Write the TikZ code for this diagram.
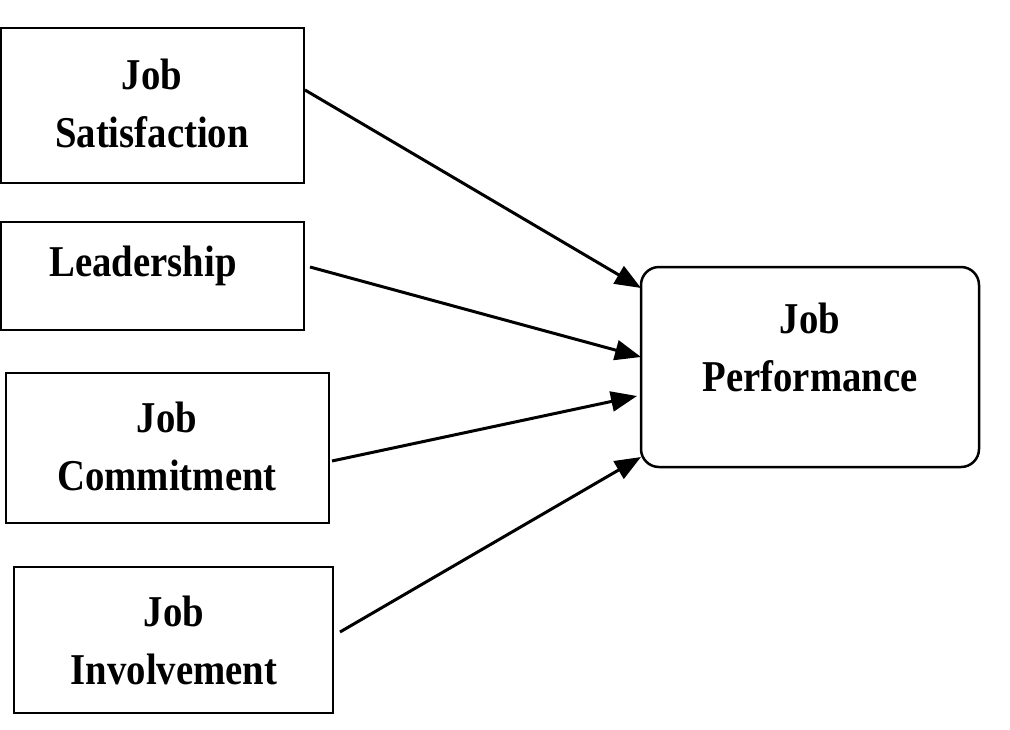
\documentclass[tikz,border=0pt]{standalone}
\usepackage{fontspec}
\setmainfont{Liberation Serif}[FakeStretch=0.88]
\usetikzlibrary{arrows.meta}
\begin{document}
\begin{tikzpicture}[x=1pt,y=-1pt,
  box/.style={draw,line width=2.5pt,inner sep=0pt},
  lbl/.style={align=center,font=\fontsize{44}{58}\selectfont\bfseries},
  arr/.style={line width=3pt,-{Triangle[length=26pt,width=20pt]}}]
\useasboundingbox (0,0) rectangle (1010,729);
\draw[box] (1,28) rectangle (304,183);
\draw[box] (1,222) rectangle (304,330);
\draw[box] (6,373) rectangle (329,523);
\draw[box] (14,567) rectangle (333,713);
\draw[box,rounded corners=18pt] (641,267) rectangle (979,467);
\node[lbl] (s) at (152,103) {Job\\Satisfaction};
\node[lbl] (l) at (143,266) {Leadership};
\node[lbl] (c) at (167,446) {Job\\Commitment};
\node[lbl] (i) at (174,640) {Job\\Involvement};
\node[lbl] (p) at (810,347) {Job\\Performance};
\coordinate (s1) at (305,90); \coordinate (s2) at (641,288);
\coordinate (l1) at (310,267); \coordinate (l2) at (641,357);
\coordinate (c1) at (332,461); \coordinate (c2) at (637,396);
\coordinate (i1) at (340,632); \coordinate (i2) at (641,457);
\draw[arr] (s1) -- (s2);
\draw[arr] (l1) -- (l2);
\draw[arr] (c1) -- (c2);
\draw[arr] (i1) -- (i2);
\end{tikzpicture}
\end{document}
